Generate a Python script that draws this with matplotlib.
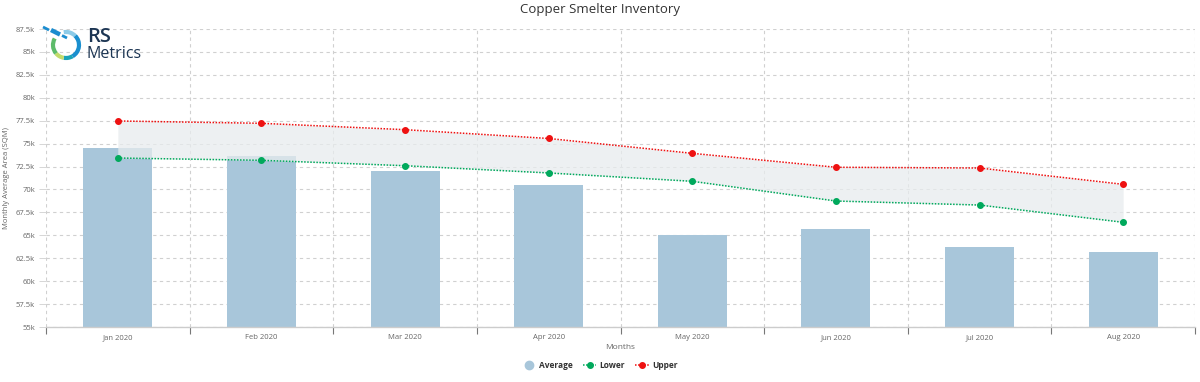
import matplotlib
matplotlib.use("Agg")
import matplotlib.pyplot as plt
from matplotlib.patches import Arc
from matplotlib.lines import Line2D
import numpy as np

plt.rcParams['font.family'] = ['Open Sans', 'DejaVu Sans']

# data
months = ["Jan 2020", "Feb 2020", "Mar 2020", "Apr 2020",
          "May 2020", "Jun 2020", "Jul 2020", "Aug 2020"]
average = [74500, 73650, 72050, 70490, 65030, 65650, 63720, 63180]
lower = [73430, 73180, 72590, 71800, 70890, 68740, 68300, 66420]
upper = [77470, 77215, 76520, 75560, 73940, 72420, 72340, 70560]
yticks = [55000 + 2500 * i for i in range(14)]
ytick_labels = ["55k", "57.5k", "60k", "62.5k", "65k", "67.5k", "70k", "72.5k",
                "75k", "77.5k", "80k", "82.5k", "85k", "87.5k"]

bar_color = "#a8c6da"
green = "#00a95c"
red = "#ee1111"
grid_color = "#d0d0d0"
text_color = "#666666"

fig = plt.figure(figsize=(12, 3.82), dpi=100)
ax = fig.add_axes([46 / 1200, 1 - 327 / 382, (1195 - 46) / 1200, (327 - 29) / 382])

x = np.arange(len(months))
ax.bar(x, average, width=0.48, color=bar_color, zorder=2)
ax.fill_between(x, lower, upper, color="#e8ecee", alpha=0.75, lw=0, zorder=3)
ax.plot(x, lower, ls=(0, (1, 1)), lw=1.1, color=green, marker="o", ms=4, zorder=4)
ax.plot(x, upper, ls=(0, (1, 1)), lw=1.1, color=red, marker="o", ms=4, zorder=4)

ax.set_xlim(-0.5, len(months) - 0.5)
ax.set_ylim(55000, 87500)
ax.set_yticks(yticks)
ax.set_yticklabels(ytick_labels)
ax.set_xticks(x)
ax.set_xticklabels(months)
ax.set_xticks(np.arange(-0.5, len(months)), minor=True)
ax.tick_params(axis="x", which="major", length=0, labelsize=5.5, colors=text_color, pad=5)
ax.tick_params(axis="x", which="minor", length=5, width=0.8, color="#777777", direction="out")
ax.tick_params(axis="y", length=5, width=0.6, color=grid_color, labelsize=5.5,
               colors=text_color, pad=3)

ax.grid(True, axis="y", ls=(0, (3, 3)), color=grid_color, lw=0.8, zorder=0)
ax.grid(True, axis="x", which="minor", ls=(0, (3, 3)), color=grid_color, lw=0.8, zorder=0)
ax.set_axisbelow(True)
for s in ["top", "right", "left"]:
    ax.spines[s].set_visible(False)
ax.spines["bottom"].set_color("#cccccc")
ax.spines["bottom"].set_linewidth(1.0)

ax.set_xlabel("Months", fontsize=6, color=text_color, labelpad=2)
ax.set_ylabel("Monthly Average Area (SQM)", fontsize=5.5, color=text_color, labelpad=4)
fig.text(0.5, 1 - 10 / 382, "Copper Smelter Inventory", ha="center", va="center",
         fontsize=9.5, color="#333333")

handles = [
    Line2D([], [], ls="none", marker="o", ms=6, color=bar_color),
    Line2D([], [], ls=(0, (1, 1)), lw=1.1, marker="o", ms=4, color=green),
    Line2D([], [], ls=(0, (1, 1)), lw=1.1, marker="o", ms=4, color=red),
]
leg = fig.legend(handles, ["Average", "Lower", "Upper"], loc="center",
                 bbox_to_anchor=(0.5, 1 - 365 / 382), ncol=3, frameon=False,
                 prop={"size": 6, "weight": "bold"}, handlelength=1.6,
                 columnspacing=1.2, handletextpad=0.4)
for t in leg.get_texts():
    t.set_color("#333333")

# logo overlay in pixel coordinates
lax = fig.add_axes([0, 0, 1, 1])
lax.set_xlim(0, 1200)
lax.set_ylim(382, 0)
lax.axis("off")
cx, cy, r = 66, 45, 13
# y axis is flipped, so angles run clockwise on screen
arcs = [(-100, -45, "#8ccbe8"), (-45, 60, "#1a8fcf"), (60, 100, "#1aa3b8"),
        (100, 140, "#c3db6b"), (140, 210, "#5dbb6a")]
for t1, t2, c in arcs:
    lax.add_patch(Arc((cx, cy), 2 * r, 2 * r, theta1=t1, theta2=t2, color=c, lw=3.0))
lax.plot([43, 49], [27, 30], color="#1b8ccf", lw=2.0, solid_capstyle="butt")
lax.plot([51, 60], [30, 34.5], color="#1b8ccf", lw=3.2, solid_capstyle="butt")
lax.plot([62, 67], [35.5, 38], color="#1b8ccf", lw=2.0, solid_capstyle="butt")
lax.text(87, 42, "RS", fontsize=14.5, fontweight="semibold", color="#1c3553", va="baseline")
lax.text(87, 57.5, "Metrics", fontsize=11.5, color="#1c3553", va="baseline")

fig.savefig("out.png", dpi=100)
